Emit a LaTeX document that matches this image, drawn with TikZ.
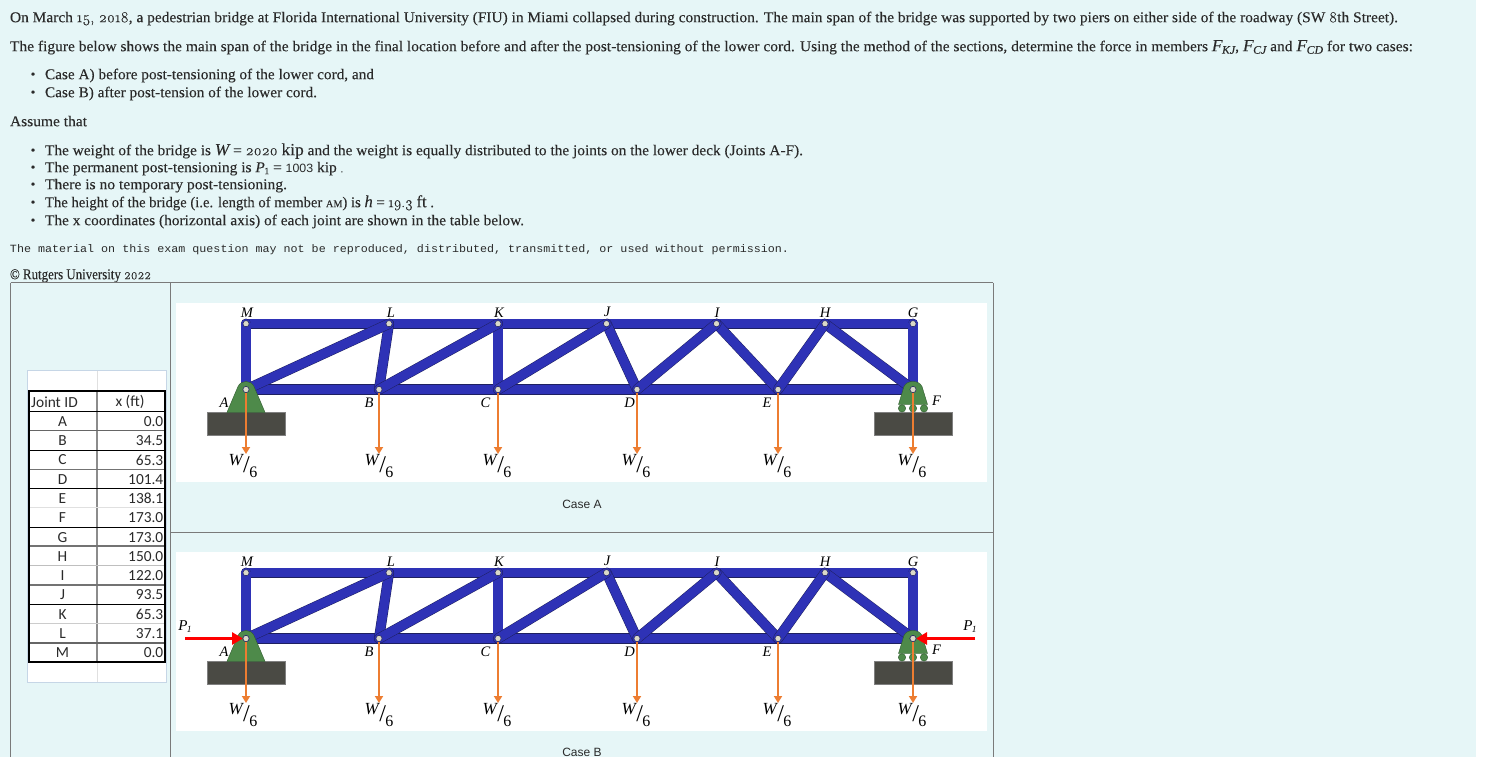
\documentclass[tikz,border=0pt]{standalone}
\usepackage{fontspec}
\usepackage{graphicx}
\setmainfont{Liberation Serif}[FakeBold=0.12]
\newfontfamily\osf{Latin Modern Roman}[Numbers=OldStyle,FakeBold=0.45]
\newfontfamily\labelfont{Liberation Serif}
\newfontfamily\tabfont{Carlito}
\newfontfamily\capfont{Liberation Sans}
\newfontfamily\monof{Liberation Mono}
\usetikzlibrary{arrows.meta}
\definecolor{pagebg}{HTML}{E6F6F7}
\definecolor{txt}{HTML}{2A2A2A}
\definecolor{rule}{HTML}{7A7A7A}
\definecolor{steel}{HTML}{2E32B6}
\definecolor{steeledge}{HTML}{1E2060}
\definecolor{pier}{HTML}{4E8A4A}
\definecolor{pieredge}{HTML}{2F5A2E}
\definecolor{ground}{HTML}{4A4A44}
\definecolor{groundedge}{HTML}{808080}
\definecolor{load}{HTML}{ED7D31}
\definecolor{pin}{HTML}{DAD9C8}
\definecolor{framebl}{HTML}{C6D6E6}
\tikzset{
  textline/.style={anchor=base west,inner sep=0pt,outer sep=0pt,text=txt,font=\fontsize{15}{15}\selectfont},
  member/.style={draw=steeledge,line width=0.5pt,double=steel,double distance=9.2pt,line cap=round},
  chord/.style={member,line cap=butt},
  joint/.style={circle,inner sep=0pt,minimum size=6.2pt,draw=steeledge,line width=0.5pt,fill=pin},
  loadarrow/.style={draw=load,line width=2.4pt,-{Triangle[length=7pt,width=8pt,fill=load]}},
  pullarrow/.style={draw=red,line width=3.4pt,-{Triangle[length=11pt,width=12pt,fill=red]}},
  jointname/.style={inner sep=0pt,text=black,font=\labelfont\itshape\fontsize{14.5}{14.5}\selectfont},
  share/.style={inner sep=0pt,text=black,font=\labelfont},
  block/.style={draw=groundedge,line width=0.6pt,fill=ground},
  support/.style={draw=pieredge,line width=0.4pt,fill=pier},
  cell/.style={inner sep=0pt,text=txt,font=\tabfont\fontsize{15.4}{15.4}\selectfont},
  caselabel/.style={inner sep=0pt,text=txt,font=\capfont\fontsize{12}{12}\selectfont},
  grid/.style={draw=rule,line width=1pt},
}
\newcommand{\fitline}[5]{\node[textline] (#1) at (#2,#3.2) {\resizebox{#4pt}{\height}{#5}};}
\newcommand{\bul}[2]{\node[inner sep=0pt,text=txt,font=\fontsize{13}{13}\selectfont] (#1) at (33,#2.5) {•};}
\newcommand{\lgit}[1]{{\itshape\fontsize{17}{17}\selectfont #1}}
\newcommand{\lgup}[1]{{\fontsize{17}{17}\selectfont #1}}
\newcommand{\forcesym}[1]{{\itshape\fontsize{17}{17}\selectfont F}\kern-0.5pt\raisebox{-2.5pt}{\itshape\fontsize{11.5}{11.5}\selectfont #1}}
\newcommand{\subone}[1]{{\itshape\fontsize{15}{15}\selectfont #1}\kern-0.5pt\raisebox{-2pt}{\fontsize{9.5}{9.5}\selectfont 1}}
\newcommand{\shareof}{\raisebox{5pt}{\itshape\fontsize{17}{17}\selectfont W}\kern0.5pt\raisebox{-2pt}{\fontsize{24}{24}\selectfont /}\kern-0.5pt\raisebox{-7pt}{\fontsize{16}{16}\selectfont 6}}
\newcommand{\bridgeunit}[2]{%
\begin{scope}[yshift=-#2pt]
  \fill[white] (176,303) rectangle (987,482);
  \foreach \n/\x/\y in {A/246/389.5,B/379/389.5,C/498/389.5,D/637/389.5,E/778/389.5,F/913/389.5,
                        M/246/323.7,L/389/323.7,K/498/323.7,J/606.5/323.7,I/716.5/323.7,H/825/323.7,G/913/323.7}
    {\coordinate (#1\n) at (\x,\y);}
  % ground blocks
  \draw[block] (207,412.3) rectangle (285,435.6);
  \draw[block] (874,412.3) rectangle (952,435.6);
  % members
  \draw[chord] (#1A) -- (#1F);
  \draw[member] (#1M) -- (#1G);
  \draw[member] (#1A) -- (#1M);
  \draw[member] (#1C) -- (#1K);
  \draw[member] (#1F) -- (#1G);
  \draw[member] (#1B) -- (#1L);
  \draw[member] (#1J) -- (#1D);
  \draw[member] (#1I) -- (#1E);
  \draw[member] (#1H) -- (#1F);
  \draw[member] (#1A) -- (#1L);
  \draw[member] (#1B) -- (#1K);
  \draw[member] (#1C) -- (#1J);
  \draw[member] (#1D) -- (#1I);
  \draw[member] (#1E) -- (#1H);
  % supports
  \draw[support] (227,412.3) -- (238,386.5) .. controls (241,379.8) and (251,379.8) .. (254,386.5) -- (265,412.3) -- cycle;
  \draw[support] (898.5,404.5) -- (904,386.5) .. controls (907,379.8) and (919,379.8) .. (922,386.5) -- (927.5,404.5) -- cycle;
  \foreach \rx in {902,913,924} {\draw[support] (\rx,408.4) circle (3.7);}
  % loads
  \foreach \n in {A,B,C,D,E,F} {\coordinate (#1t\n) at ([yshift=-64.5pt]#1\n); \draw[loadarrow] (#1\n) -- (#1t\n);}
  % pins
  \foreach \n in {A,B,C,D,E,F,M,L,K,J,I,H,G} {\node[joint] (#1p\n) at (#1\n) {};}
  % labels
  \foreach \n/\x/\y in {M/247/312.5,L/391/312.5,K/499/312.5,J/607/312,I/717/312.5,H/825/312.5,G/913/312.5,
                        A/224/402.5,B/369/403,C/485.5/403,D/629.5/402.5,E/767/403,F/936.5/400.5}
    {\node[jointname] (#1n\n) at (\x,\y) {\n};}
  \foreach \n/\x in {A/243,B/379,C/497,D/636,E/777,F/912}
    {\node[share] (#1w\n) at (\x,466.5) {\shareof};}
\end{scope}}
\begin{document}
\begin{tikzpicture}[x=1pt,y=-1pt]
\clip (0,0) rectangle (1489,757);
\fill[white] (0,0) rectangle (1489,757);
\fill[pagebg] (0,0) rectangle (1476,757);
% text
\fitline{t1}{10}{22}{1388}{On March {\osf 15, 2018}, a pedestrian bridge at Florida International University (FIU) in Miami collapsed during construction. The main span of the bridge was supported by two piers on either side of the roadway (SW {\osf 8}th Street).}
\fitline{t2}{10}{51}{1403}{The figure below shows the main span of the bridge in the final location before and after the post-tensioning of the lower cord. Using the method of the sections, determine the force in members \forcesym{KJ}, \forcesym{CJ} and \forcesym{CD} for two cases:}
\bul{b1}{75}\fitline{t3}{45}{79}{329}{Case A) before post-tensioning of the lower cord, and}
\bul{b2}{93}\fitline{t4}{45}{97}{272}{Case B) after post-tension of the lower cord.}
\fitline{t5}{10}{126}{77}{Assume that}
\bul{b3}{151}\fitline{t6}{45}{155}{758}{The weight of the bridge is \lgit{W} = {\osf 2020} \lgup{kip} and the weight is equally distributed to the joints on the lower deck (Joints A-F).}
\bul{b4}{168}\fitline{t7}{45}{172}{298}{The permanent post-tensioning is \subone{P} = {\capfont\fontsize{12}{12}\selectfont 1003} kip {\fontsize{9}{9}\selectfont .}}
\bul{b5}{185}\fitline{t8}{45}{189}{242}{There is no temporary post-tensioning.}
\bul{b6}{203}\fitline{t9}{45}{207}{389}{The height of the bridge (i.e. length of member {\fontsize{10.5}{10.5}\selectfont AM}) is \lgit{h} = {\osf 19.3} \lgup{ft} .}
\bul{b7}{221}\fitline{t10}{45}{225}{479}{The x coordinates (horizontal axis) of each joint are shown in the table below.}
\node[textline,font=\monof\fontsize{11}{11}\selectfont] (t11) at (10,252) {\resizebox{779pt}{\height}{The material on this exam question may not be reproduced, distributed, transmitted, or used without permission.}};
\fitline{t12}{10}{279}{141}{© Rutgers University {\osf 2022}}
% frame
\draw[grid] (10.5,282.5) -- (993,282.5);
\draw[grid] (10.5,282.5) -- (10.5,757);
\draw[grid] (170.5,282.5) -- (170.5,757);
\draw[grid] (993,282.5) -- (993,757);
\draw[grid] (170.5,532.5) -- (993,532.5);
% table
\draw[framebl,line width=1pt,fill=white] (27.5,370.5) rectangle (166.3,682);
\draw[draw=black!12,line width=1pt] (97,370.5) -- (97,682);
\draw[black!45,line width=2pt] (97,391) -- (97,662);
\foreach \i/\c/\w in {0/black/1,1/black!60/1.4,2/black/1,3/black!55/1.4,4/black/1,5/black!12/1,6/black/1,7/black!55/1.8,8/black!25/1,9/black!55/1.4,10/black/1,11/black!20/1,12/black!60/1.6}
  {\draw[draw=\c,line width=\w pt] (29,411.5+19.27*\i) -- (165,411.5+19.27*\i);}
\draw[black,line width=1.4pt] (29,391) rectangle (165,662);
\node[cell] (h1) at (54.5,402) {Joint ID};
\node[cell] (h2) at (130,402) {x (ft)};
\foreach \n/\l/\v [count=\i from 0] in {a/A/0.0,b/B/34.5,c/C/65.3,d/D/101.4,e/E/138.1,f/F/173.0,g/G/173.0,h/H/150.0,i/I/122.0,j/J/93.5,k/K/65.3,l/L/37.1,m/M/0.0}
  {\node[cell,anchor=center] (id\n) at (62.5,421.5+19.27*\i) {\l};
   \node[cell,anchor=east] (x\n) at (163.5,421.5+19.27*\i) {\v};}
% bridges
\bridgeunit{a}{0}
\bridgeunit{b}{249}
\node[caselabel] (ca) at (582,504) {Case A};
\node[caselabel] (cb) at (582,752.5) {Case B};
% post-tension
\coordinate (pl) at (185,638.5);
\coordinate (pr) at (975,638.5);
\draw[pullarrow,shorten >=3pt] (pl) -- (bA);
\draw[pullarrow,shorten >=3pt] (pr) -- (bF);
\draw[load,line width=2.4pt] (bA) -- ++(0,8);
\draw[load,line width=2.4pt] (bF) -- ++(0,8);
\node[joint] (bpA2) at (bA) {};
\node[joint] (bpF2) at (bF) {};
\node[jointname] (p1) at (185,627) {\subone{P}};
\node[jointname] (p2) at (970,627) {\subone{P}};
\end{tikzpicture}
\end{document}
